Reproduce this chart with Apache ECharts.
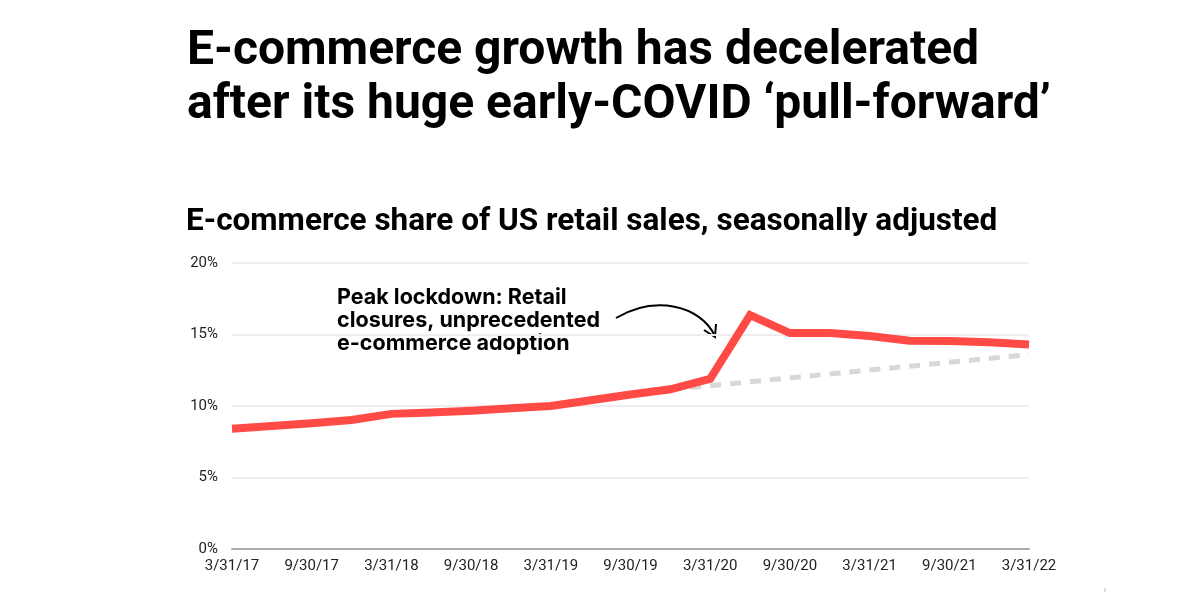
<!DOCTYPE html>
<html>
<head>
<meta charset="utf-8">
<script src="https://cdn.jsdelivr.net/npm/echarts@6/dist/echarts.min.js"></script>
<style>
  html, body { margin: 0; padding: 0; background: #fff; }
  #chart { width: 1200px; height: 600px; }
</style>
</head>
<body>
<div id="chart"></div>
<script>
// quarter-end dates, Q1 2017 .. Q1 2022
const quarters = [
  '3/31/17', '6/30/17', '9/30/17', '12/31/17',
  '3/31/18', '6/30/18', '9/30/18', '12/31/18',
  '3/31/19', '6/30/19', '9/30/19', '12/31/19',
  '3/31/20', '6/30/20', '9/30/20', '12/31/20',
  '3/31/21', '6/30/21', '9/30/21', '12/31/21',
  '3/31/22'
]
// e-commerce share of retail sales (%)
const ecomShare = [
  8.41, 8.6, 8.79, 9.02,
  9.45, 9.55, 9.67, 9.84,
  10.0, 10.4, 10.8, 11.17,
  11.9, 16.36, 15.1, 15.1,
  14.9, 14.57, 14.55, 14.45,
  14.3
]
// pre-covid trend, only the two ends are known
const trend = [
  null, null, null, null,
  null, null, null, null,
  null, null, null, 11.15,
  null, null, null, null,
  null, null, null, null,
  13.6
]
const yTicks = [0, 5, 10, 15, 20]

const font = 'Roboto'
const dom = document.getElementById('chart')
const chart = echarts.init(dom, null, { renderer: 'canvas' })

let option = {
  animation: false,
  backgroundColor: '#fff',
  title: [
    {
      text: 'E-commerce growth has decelerated\nafter its huge early-COVID \u2018pull-forward\u2019',
      left: 182,
      top: 20,
      textStyle: {
        fontFamily: font,
        fontWeight: 'bold',
        fontSize: 48,
        lineHeight: 54,
        color: '#000'
      }
    },
    {
      text: 'E-commerce share of US retail sales, seasonally adjusted',
      left: 181,
      top: 201,
      textStyle: {
        fontFamily: font,
        fontWeight: 'bold',
        fontSize: 31.5,
        color: '#000'
      }
    }
  ],
  grid: {
    left: 232,
    right: 171,
    top: 263,
    bottom: 51,
    containLabel: false
  },
  xAxis: {
    type: 'category',
    boundaryGap: false,
    data: quarters,
    axisTick: { show: false },
    axisLine: { lineStyle: { color: '#aaaaaa', width: 2 } },
    axisLabel: {
      interval: 1,
      margin: 10,
      fontFamily: font,
      fontSize: 15,
      color: '#222'
    },
    splitLine: { show: false }
  },
  yAxis: {
    type: 'value',
    min: yTicks[0],
    max: yTicks[yTicks.length - 1],
    interval: 5,
    axisLine: { show: false },
    axisTick: { show: false },
    axisLabel: {
      formatter: '{value}%',
      margin: 14,
      fontFamily: font,
      fontSize: 15,
      color: '#222'
    },
    splitLine: { lineStyle: { color: '#eeeeee', width: 2 } }
  },
  series: [
    {
      name: 'trend',
      type: 'line',
      data: trend,
      connectNulls: true,
      symbol: 'none',
      z: 1,
      lineStyle: { color: '#d8d8d8', width: 5, type: [11, 9] }
    },
    {
      name: 'share',
      type: 'line',
      data: ecomShare,
      symbol: 'none',
      z: 2,
      lineStyle: { color: '#ff4a46', width: 8, join: 'miter' }
    }
  ],
  graphic: [
    {
      type: 'text',
      left: 337,
      top: 286,
      style: {
        text: 'Peak lockdown: Retail\nclosures, unprecedented\ne-commerce adoption',
        font: 'bold 21.5px Inter',
        lineHeight: 23,
        fill: '#000'
      }
    },
    {
      type: 'bezierCurve',
      shape: { x1: 616, y1: 318, cpx1: 655, cpy1: 295, cpx2: 700, cpy2: 305, x2: 715, y2: 336 },
      style: { stroke: '#000', lineWidth: 2, fill: null }
    },
    {
      type: 'polyline',
      shape: { points: [[704, 330], [715, 337], [716, 324]] },
      style: { stroke: '#000', lineWidth: 2, fill: null }
    },
    {
      type: 'line',
      shape: { x1: 1105, y1: 588, x2: 1105, y2: 592 },
      style: { stroke: '#bbb', lineWidth: 1 }
    }
  ]
}

chart.setOption(option)
window.addEventListener('resize', () => chart.resize())
</script>
</body>
</html>
